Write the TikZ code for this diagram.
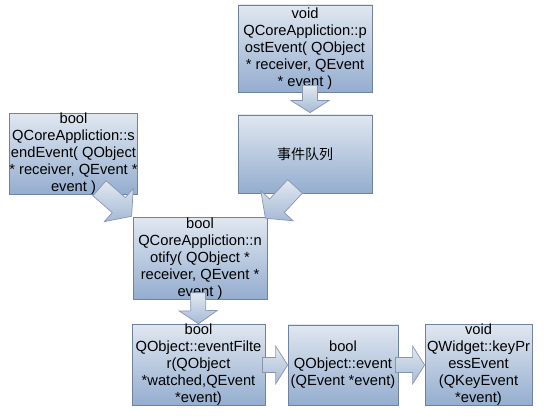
\documentclass[tikz,border=0pt]{standalone}
\usepackage{fontspec}
\setmainfont{Liberation Sans}
\newfontfamily\cjk{Noto Sans CJK SC}
\usetikzlibrary{calc}
\definecolor{boxtop}{RGB}{224,231,240}
\definecolor{boxbot}{RGB}{148,173,207}
\definecolor{boxline}{RGB}{112,130,160}
\definecolor{arrtop}{RGB}{226,232,240}
\definecolor{arrbot}{RGB}{165,186,214}
\definecolor{arrline}{RGB}{135,150,175}
\tikzset{
  box/.style={draw=boxline, line width=0.8pt, top color=boxtop, bottom color=boxbot,
    inner sep=0pt, align=center, font=\fontsize{14.7}{17}\selectfont, text=black},
  fatarr/.style={draw=arrline, line width=0.7pt, top color=arrtop, bottom color=arrbot, line join=miter},
}
% #1 head length, #2 shaft half width, #3 head half width, #4 start, #5 tip
\newcommand\fatarrow[5]{%
  \coordinate (#4h) at ($(#5)!#1!(#4)$);
  \draw[fatarr] ($(#4)!#2!90:(#5)$) -- ($(#4h)!#2!90:(#5)$) -- ($(#4h)!#3!90:(#5)$)
     -- (#5) -- ($(#4h)!#3!-90:(#5)$) -- ($(#4h)!#2!-90:(#5)$) -- ($(#4)!#2!-90:(#5)$) -- cycle;}
\begin{document}
\begin{tikzpicture}[x=1pt,y=1pt]
\useasboundingbox (0,0) rectangle (554,415);
% boxes
\node[box, minimum width=134pt, minimum height=87pt] (b1) at (305,366.5)
  {void\\QCoreAppliction::p\\ostEvent( QObject\\* receiver, QEvent\\* event )};
\node[box, minimum width=134pt, minimum height=78pt] (b2) at (305,261)
  {\cjk\fontsize{14}{17}\selectfont 事件队列};
\node[box, minimum width=127pt, minimum height=78pt] (b3) at (73.5,261)
  {bool\\QCoreAppliction::s\\endEvent( QObject\\* receiver, QEvent *\\event )};
\node[box, minimum width=134pt, minimum height=77pt] (b4) at (200,156.5)
  {bool\\QCoreAppliction::n\\otify( QObject *\\receiver, QEvent *\\event )};
\node[box, minimum width=133pt, minimum height=80pt] (b5) at (198.5,50)
  {bool\\QObject::eventFilte\\r(QObject\\*watched,QEvent\\*event)};
\node[box, minimum width=110pt, minimum height=80pt] (b6) at (343,50)
  {bool\\QObject::event\\(QEvent *event)};
\node[box, minimum width=107pt, minimum height=80pt] (b7) at (478.5,50)
  {void\\QWidget::keyPr\\essEvent\\(QKeyEvent\\*event)};
% arrow endpoints
\coordinate (a1s) at ($(b1.south)+(5,7)$);
\coordinate (a1e) at ($(b2.north)+(5,2)$);
\coordinate (a2s) at ($(b4.south)+(-2,7)$);
\coordinate (a2e) at ($(b5.north)+(0,0)$);
\coordinate (a3s) at ($(b5.east)+(-3,0)$);
\coordinate (a3e) at (b6.west);
\coordinate (a4s) at ($(b6.east)+(-3,0)$);
\coordinate (a4e) at (b7.west);
\coordinate (a5s) at ($(b3.south)+(26,7)$);
\coordinate (a5e) at ($(b4.north west)+(-1,1)$);
\coordinate (a6s) at ($(b2.south)+(-10,7)$);
\coordinate (a6e) at ($(b4.north east)+(-2,-1)$);
% arrows
\fatarrow{12pt}{7.5pt}{19pt}{a1s}{a1e}
\fatarrow{13pt}{7.5pt}{19pt}{a2s}{a2e}
\fatarrow{12pt}{7.5pt}{19pt}{a3s}{a3e}
\fatarrow{12pt}{7.5pt}{19pt}{a4s}{a4e}
\fatarrow{17pt}{10pt}{22pt}{a5s}{a5e}
\fatarrow{17pt}{10pt}{22pt}{a6s}{a6e}
\end{tikzpicture}
\end{document}
